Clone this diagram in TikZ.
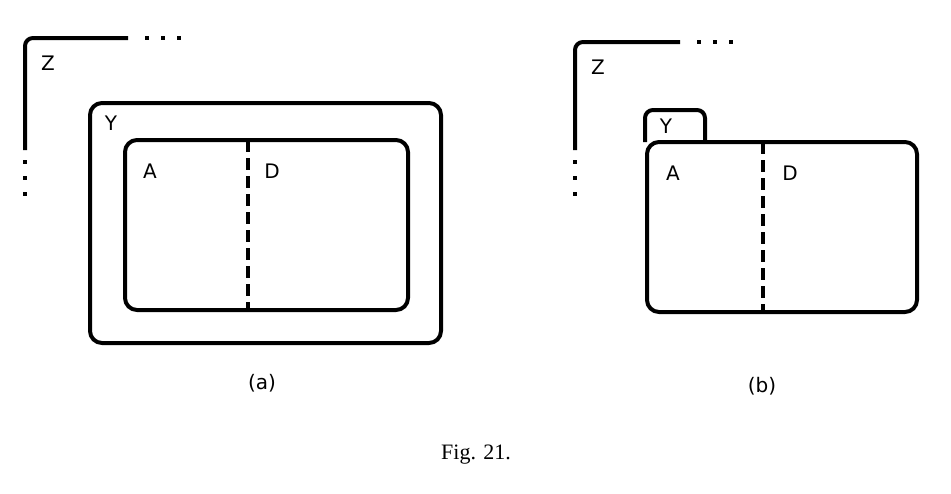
\documentclass[tikz,border=0pt]{standalone}
\usepackage{fontspec}
\setmainfont{Liberation Serif}
\newfontfamily\lab{DejaVu Sans}
\begin{document}
\begin{tikzpicture}[x=1pt,y=-1pt,
  ln/.style={line width=4pt,line join=round},
  bx/.style={ln,draw,rounded corners=12pt},
  dots/.style={ln,dash pattern=on 4pt off 12pt,line cap=butt},
  lbl/.style={font=\lab\fontsize{20}{22}\selectfont,inner sep=0pt}]
\useasboundingbox (0,0) rectangle (951,493);
% (a)
\draw[ln,rounded corners=8pt] (25,150) -- (25,38) -- (128,38);
\draw[dots] (25,160) -- (25,196);
\draw[dots] (145,38) -- (190,38);
\node[lbl] (za) at (48,63) {Z};
\draw[bx] (90,103) rectangle (441,343);
\node[lbl] (ya) at (111,123) {Y};
\draw[bx] (125,140) rectangle (408,310);
\node[lbl] (aa) at (150,171) {A};
\node[lbl] (da) at (272,171) {D};
\draw[ln,dashed,dash pattern=on 12pt off 6pt,line cap=butt] (248,140) -- (248,310);
\node[lbl] (capa) at (262,383) {(a)};
% (b)
\draw[ln,rounded corners=8pt] (575,150) -- (575,42) -- (680,42);
\draw[dots] (575,160) -- (575,196);
\draw[dots] (697,42) -- (740,42);
\node[lbl] (zb) at (598,67) {Z};
\draw[ln,rounded corners=8pt] (645,142) -- (645,110) -- (705,110) -- (705,142);
\node[lbl] (yb) at (666,126) {Y};
\draw[bx] (647,142) rectangle (917,312);
\node[lbl] (ab) at (673,173) {A};
\node[lbl] (db) at (790,173) {D};
\draw[ln,dash pattern=on 12pt off 6pt,line cap=butt] (763,142) -- (763,312);
\node[lbl] (capb) at (762,386) {(b)};
\node[font=\fontsize{22}{24}\selectfont] (fig) at (476,455) {Fig. 21.};
\end{tikzpicture}
\end{document}
